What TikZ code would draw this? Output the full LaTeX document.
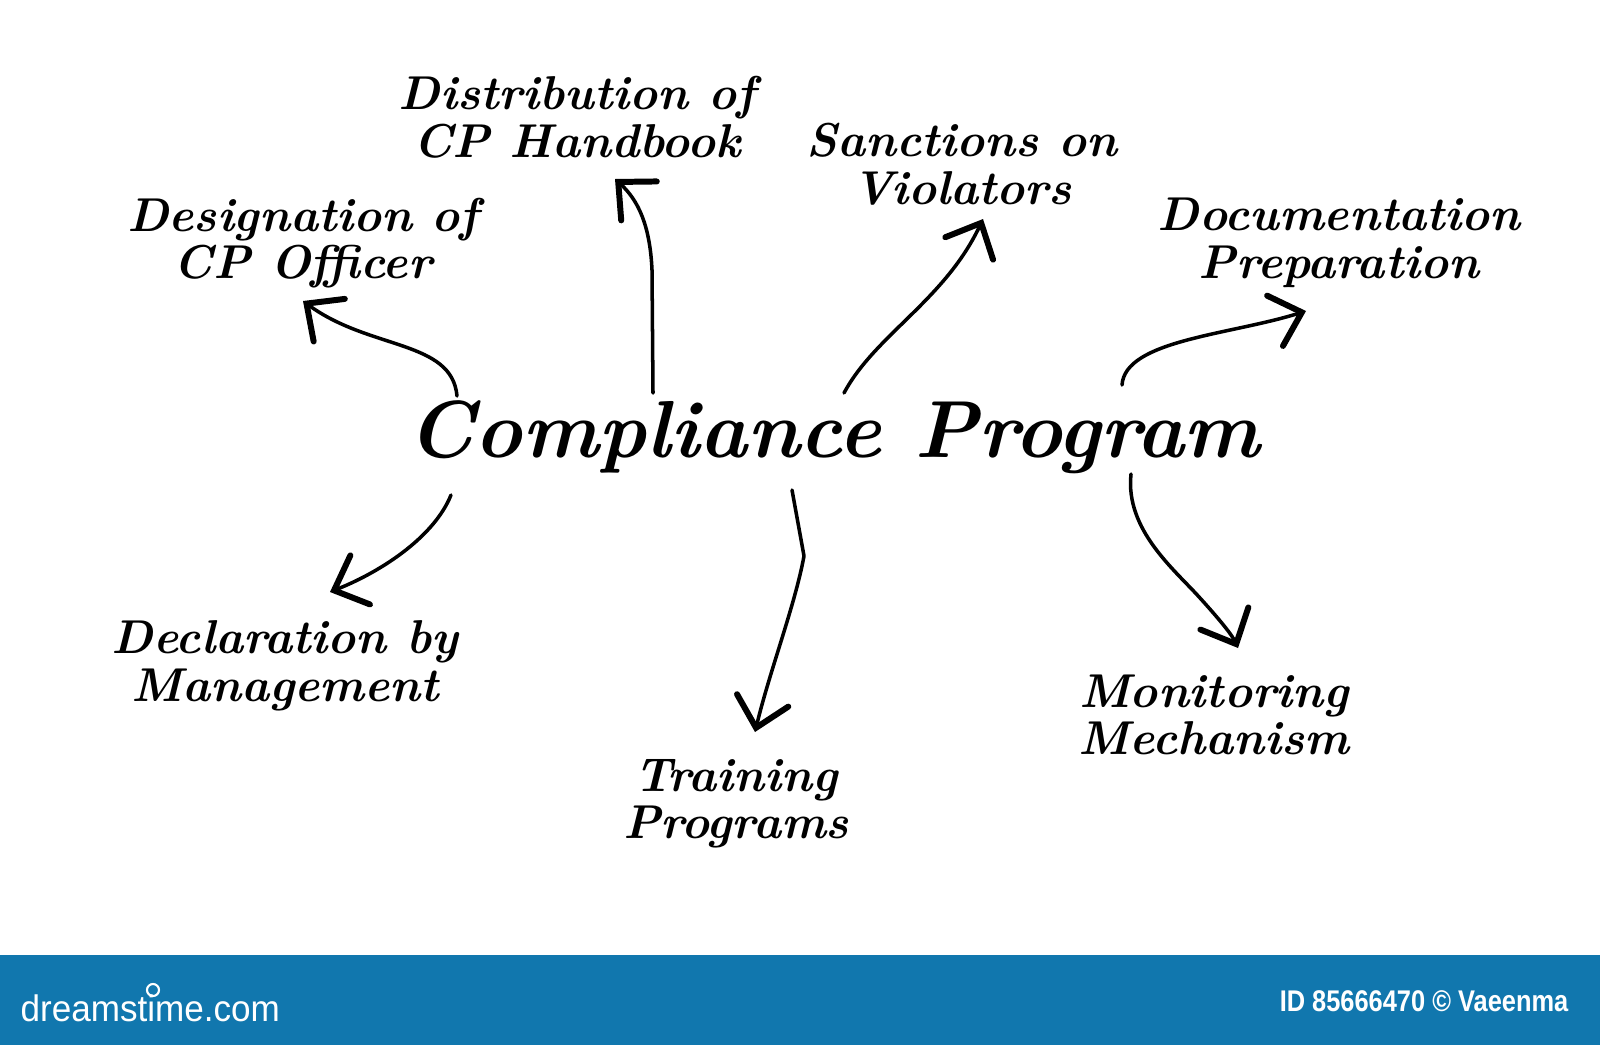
\documentclass[tikz,border=0pt]{standalone}
\usepackage{fontspec}
\setmainfont{Latin Modern Roman}
\newfontfamily\footfont{Liberation Sans}
\usetikzlibrary{arrows.meta}
\definecolor{footblue}{HTML}{1177AE}
\begin{document}
\begin{tikzpicture}[x=0.01cm,y=-0.01cm,
  lab/.style={font=\fontsize{13.5}{13.5}\selectfont\bfseries\itshape, align=center, inner sep=0pt},
  conn/.style={line width=1pt, line cap=round, line join=round,
    -{Straight Barb[length=8pt,width=15pt,line width=1.7pt,line cap=round]}}]
\useasboundingbox (0,0) rectangle (1600,1045);
\fill[white] (0,0) rectangle (1600,1045);
\fill[footblue] (0,955) rectangle (1600,1045);

\node[inner sep=0pt, font=\fontsize{23}{26}\selectfont\bfseries\itshape] (cp) at (834,437) {Compliance Program};

\node[lab] (desig) at (303,243) {Designation of\\CP Officer};
\node[lab] (distr) at (577,117) {Distribution of\\CP Handbook};
\node[lab] (sanct) at (962,164) {Sanctions on\\Violators};
\node[lab] (docum) at (1339,243) {Documentation\\Preparation};
\node[lab] (decl) at (285,666) {Declaration by\\Management};
\node[lab] (train) at (736,804) {Training\\Programs};
\node[lab] (monit) at (1214,715) {Monitoring\\Mechanism};

\coordinate (s1) at (457,396); \coordinate (e1) at (303,301);
\coordinate (s2) at (653,393); \coordinate (e2) at (615,179);
\coordinate (s3) at (844,393); \coordinate (e3) at (983,219);
\coordinate (s4) at (1122,385); \coordinate (e4) at (1306,311);
\coordinate (s5) at (451,495); \coordinate (e5) at (330,592);
\coordinate (s6) at (792,490); \coordinate (e6) at (755,732);
\coordinate (s7) at (1131,474); \coordinate (e7) at (1238,648);

\draw[conn] (s1) .. controls (452,340) and (370,350) .. (e1);
\draw[conn] (s2) -- (652,270) .. controls (650,225) and (638,200) .. (e2);
\draw[conn] (s3) .. controls (875,335) and (945,300) .. (e3);
\draw[conn] (s4) .. controls (1125,340) and (1230,335) .. (e4);
\draw[conn] (s5) .. controls (435,535) and (385,570) .. (e5);
\draw[conn] (s6) -- (804,556) .. controls (795,605) and (770,670) .. (e6);
\draw[conn] (s7) .. controls (1125,530) and (1175,570) .. (1200,598) .. controls (1220,620) and (1232,635) .. (e7);

\node[inner sep=0pt, anchor=west, text=white, font=\footfont\fontsize{10.5}{12}\selectfont] (logo) at (20,1008) {\scalebox{0.95}[1]{dreamstime.com}};
\draw[white, line width=0.6pt] (153,990) circle (6);
\node[inner sep=0pt, anchor=east, text=white, font=\footfont\bfseries\fontsize{8.5}{10}\selectfont] (idtxt) at (1569,1001) {\scalebox{0.85}[1]{ID 85666470 © Vaeenma}};
\end{tikzpicture}
\end{document}
